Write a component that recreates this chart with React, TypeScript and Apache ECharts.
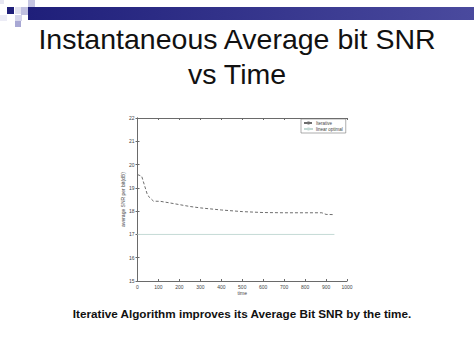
import React, { useEffect, useRef } from "react";
import * as echarts from "echarts";

const timeValues = [0, 20, 48, 76, 110, 150, 200, 250, 300, 400, 500, 600, 700, 800, 880, 900, 940];
const iterativeSNR = [19.57, 19.5, 18.68, 18.43, 18.42, 18.36, 18.28, 18.2, 18.14, 18.05, 17.98, 17.94, 17.93, 17.93, 17.93, 17.86, 17.85];
const linearTimes = [0, 940];
const linearOptimalSNR = [17, 17];
const xTickRange = [0, 1000];
const yTickRange = [15, 22];

const titleLines = ["Instantaneous Average bit SNR", "vs Time"];
const caption = "Iterative Algorithm improves its Average Bit SNR by the time.";

export default function App() {
  const ref = useRef<HTMLDivElement>(null);
  useEffect(() => {
    if (!ref.current) return;
    const chart = echarts.init(ref.current, undefined, { renderer: "svg" });
    const axisColor = "#6a6a6a";
    const labelStyle = { fontSize: 5, color: "#444", fontFamily: "Liberation Sans" };
    const grid = { left: 137.5, top: 118, width: 209.5, height: 163 };
    chart.setOption({
      animation: false,
      backgroundColor: "#ffffff",
      grid,
      xAxis: [
        {
          type: "value",
          min: xTickRange[0],
          max: xTickRange[1],
          interval: 100,
          position: "bottom",
          name: "time",
          nameLocation: "middle",
          nameGap: 9,
          nameTextStyle: { fontSize: 5, color: "#444", fontFamily: "Liberation Sans" },
          axisLine: { show: true, lineStyle: { color: axisColor, width: 1 } },
          axisTick: { show: true, inside: true, length: 2, lineStyle: { color: axisColor } },
          axisLabel: { ...labelStyle, margin: 3, formatter: (v: number) => String(v) },
          splitLine: { show: false },
        },
        {
          type: "value",
          min: xTickRange[0],
          max: xTickRange[1],
          interval: 100,
          position: "top",
          axisLine: { show: true, lineStyle: { color: axisColor, width: 1 } },
          axisTick: { show: true, inside: true, length: 2, lineStyle: { color: axisColor } },
          axisLabel: { show: false },
          splitLine: { show: false },
        },
      ],
      yAxis: [
        {
          type: "value",
          min: yTickRange[0],
          max: yTickRange[1],
          interval: 1,
          position: "left",
          name: "average SNR per bit(dB)",
          nameLocation: "middle",
          nameGap: 9,
          nameRotate: 90,
          nameTextStyle: { fontSize: 5, color: "#444", fontFamily: "Liberation Sans" },
          axisLine: { show: true, lineStyle: { color: axisColor, width: 1 } },
          axisTick: { show: true, inside: true, length: 2, lineStyle: { color: axisColor } },
          axisLabel: { ...labelStyle, margin: 3 },
          splitLine: { show: false },
        },
        {
          type: "value",
          min: yTickRange[0],
          max: yTickRange[1],
          interval: 1,
          position: "right",
          axisLine: { show: true, lineStyle: { color: axisColor, width: 1 } },
          axisTick: { show: true, inside: true, length: 2, lineStyle: { color: axisColor } },
          axisLabel: { show: false },
          splitLine: { show: false },
        },
      ],
      legend: {
        left: 301,
        top: 119,
        orient: "vertical",
        itemGap: 1,
        itemWidth: 9,
        itemHeight: 4,
        padding: [1.5, 3, 1.5, 2],
        backgroundColor: "#ffffff",
        borderColor: "#777",
        borderWidth: 0.6,
        textStyle: { fontSize: 4.5, color: "#444", fontFamily: "Liberation Sans", padding: [0, 0, 0, -2] },
        data: ["Iterative", "linear optimal"],
      },
      series: [
        {
          name: "Iterative",
          type: "line",
          symbol: "none",
          data: timeValues.map((t, i) => [t, iterativeSNR[i]]),
          lineStyle: { color: "#6e6e6e", width: 1, type: [3, 2] },
          itemStyle: { color: "#6e6e6e" },
        },
        {
          name: "linear optimal",
          type: "line",
          symbol: "none",
          data: linearTimes.map((t, i) => [t, linearOptimalSNR[i]]),
          lineStyle: { color: "#c4dad5", width: 1, type: "solid" },
          itemStyle: { color: "#c4dad5" },
        },
      ],
      graphic: [
        {
          type: "rect",
          shape: { x: 28, y: 7, width: 446, height: 13 },
          style: {
            fill: new echarts.graphic.LinearGradient(0, 0, 1, 0, [
              { offset: 0, color: "#1f1f7a" },
              { offset: 1, color: "#4a4a9e" },
            ]),
          },
        },
        { type: "rect", shape: { x: 0, y: 0, width: 4, height: 4 }, style: { fill: "#e6e6f2" } },
        { type: "rect", shape: { x: 28, y: 0, width: 7, height: 7 }, style: { fill: "#c6c6e2" } },
        { type: "rect", shape: { x: 7, y: 7, width: 7, height: 7 }, style: { fill: "#20207a" } },
        { type: "rect", shape: { x: 15, y: 7, width: 6, height: 7 }, style: { fill: "#e2e2f0" } },
        { type: "rect", shape: { x: 21, y: 7, width: 7, height: 8 }, style: { fill: "#c0c0e0" } },
        { type: "rect", shape: { x: 15, y: 15, width: 7, height: 6 }, style: { fill: "#d6d6ec" } },
        { type: "rect", shape: { x: 15, y: 21, width: 6, height: 6 }, style: { fill: "#a8a8d4" } },
        { type: "rect", shape: { x: 0, y: 15, width: 7, height: 6 }, style: { fill: "#ececf6" } },
        {
          type: "text",
          x: 237,
          y: 53,
          style: {
            text: titleLines[0],
            fontSize: 28.5,
            fontFamily: "Liberation Sans",
            fill: "#111111",
            textAlign: "center",
            textVerticalAlign: "bottom",
          },
        },
        {
          type: "text",
          x: 237,
          y: 88,
          style: {
            text: titleLines[1],
            fontSize: 28.5,
            fontFamily: "Liberation Sans",
            fill: "#111111",
            textAlign: "center",
            textVerticalAlign: "bottom",
          },
        },
        {
          type: "text",
          x: 242,
          y: 313,
          style: {
            text: caption,
            fontSize: 11.7,
            fontWeight: "bold",
            fontFamily: "Liberation Sans",
            fill: "#111111",
            textAlign: "center",
            textVerticalAlign: "middle",
          },
        },
      ],
    });
    return () => chart.dispose();
  }, []);
  return (
    <div
      ref={ref}
      style={{ position: "fixed", left: 0, top: 0, width: 474, height: 355, background: "#fff" }}
    />
  );
}
